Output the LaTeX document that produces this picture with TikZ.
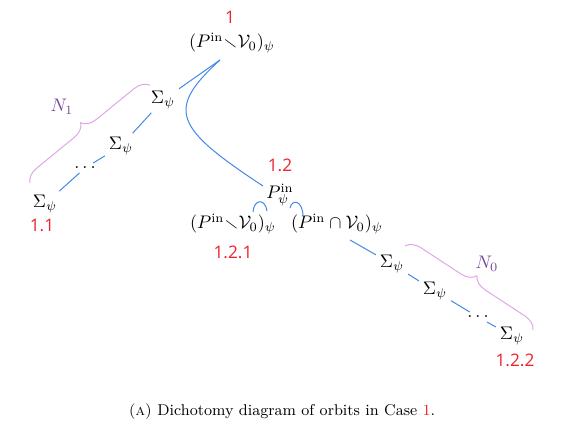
\documentclass[tikz,border=0pt]{standalone}
\usepackage{amssymb}
\usepackage{fontspec}
\newfontfamily\labfont{Open Sans}
\usetikzlibrary{decorations.pathreplacing}
\definecolor{edgeblue}{RGB}{66,136,230}
\definecolor{labred}{RGB}{235,35,45}
\definecolor{bracepink}{RGB}{225,165,232}
\definecolor{npurple}{RGB}{120,70,160}
\tikzset{
  mnode/.style={inner sep=2pt, font=\fontsize{10}{12}\selectfont},
  redlab/.style={text=labred, inner sep=0.5pt, font=\labfont\fontsize{9.5}{11}\selectfont},
  edge/.style={draw=edgeblue, line width=0.55pt},
  bracestyle/.style={draw=bracepink, line width=0.55pt, decorate, decoration={brace, amplitude=8pt}},
  nlab/.style={text=npurple, inner sep=1pt, font=\fontsize{10}{12}\selectfont},
}
\begin{document}
\begin{tikzpicture}[x=0.55pt,y=-0.55pt]
\useasboundingbox (0,0) rectangle (579,429);
% root
\node[redlab] (l1) at (230,17) {1};
\node[mnode] (root) at (232,43) {$(P^{\mathrm{in}}{\smallsetminus}\mathcal{V}_0)_\psi$};
\coordinate (rootfoot) at (220,60);
% left chain
\node[mnode] (s1) at (163,100) {$\Sigma_\psi$};
\node[mnode] (s2) at (121,146) {$\Sigma_\psi$};
\node[mnode] (d1) at (85,168) {$\dots$};
\node[mnode] (s3) at (45,204) {$\Sigma_\psi$};
\node[redlab] (l11) at (42,225) {1.1};
\draw[edge] (rootfoot) -- (s1);
\draw[edge] (s1) -- (s2);
\draw[edge] (s2) -- (d1);
\draw[edge] (d1) -- (s3);
\coordinate (b1a) at (30,183);
\coordinate (b1b) at (150,85);
\draw[bracestyle] (b1a) -- (b1b);
\node[nlab] (n1) at (62,107) {$N_1$};
% P node
\node[redlab] (l12) at (280,165) {1.2};
\node[mnode, inner sep=1pt] (P) at (280,195) {$P^{\mathrm{in}}_\psi$};
\coordinate (Pin) at (263,186);
\draw[edge] (rootfoot) .. controls (165,110) and (175,128) .. (Pin);
% children
\node[mnode] (lc) at (233,224) {$(P^{\mathrm{in}}{\smallsetminus}\mathcal{V}_0)_\psi$};
\node[mnode] (rc) at (337,224) {$(P^{\mathrm{in}}\cap\mathcal{V}_0)_\psi$};
\node[redlab] (l121) at (233,252) {1.2.1};
\coordinate (a1) at (253,212);
\coordinate (a2) at (267,211);
\coordinate (c1) at (290,208);
\coordinate (c2) at (303,215);
\draw[edge] (a1) .. controls (254,199) and (265,198) .. (a2);
\draw[edge] (c1) .. controls (292,199) and (302,200) .. (c2);
% right chain
\coordinate (rcfoot) at (350,240);
\node[mnode] (t1) at (392,264) {$\Sigma_\psi$};
\node[mnode] (t2) at (435,291) {$\Sigma_\psi$};
\node[mnode] (d2) at (478,317) {$\dots$};
\node[mnode] (t3) at (512,336) {$\Sigma_\psi$};
\node[redlab] (l122) at (515,360) {1.2.2};
\draw[edge] (rcfoot) -- (t1);
\draw[edge] (t1) -- (t2);
\draw[edge] (t2) -- (d2);
\draw[edge] (d2) -- (t3);
\coordinate (b0a) at (405,246);
\coordinate (b0b) at (533,330);
\draw[bracestyle] (b0a) -- (b0b);
\node[nlab] (n0) at (487,264) {$N_0$};
% caption
\node[inner sep=0pt, font=\fontsize{8.6}{10}\selectfont] (cap) at (282,412) {\textsc{(a)} Dichotomy diagram of orbits in Case \textcolor{labred}{1}.};
\end{tikzpicture}
\end{document}
